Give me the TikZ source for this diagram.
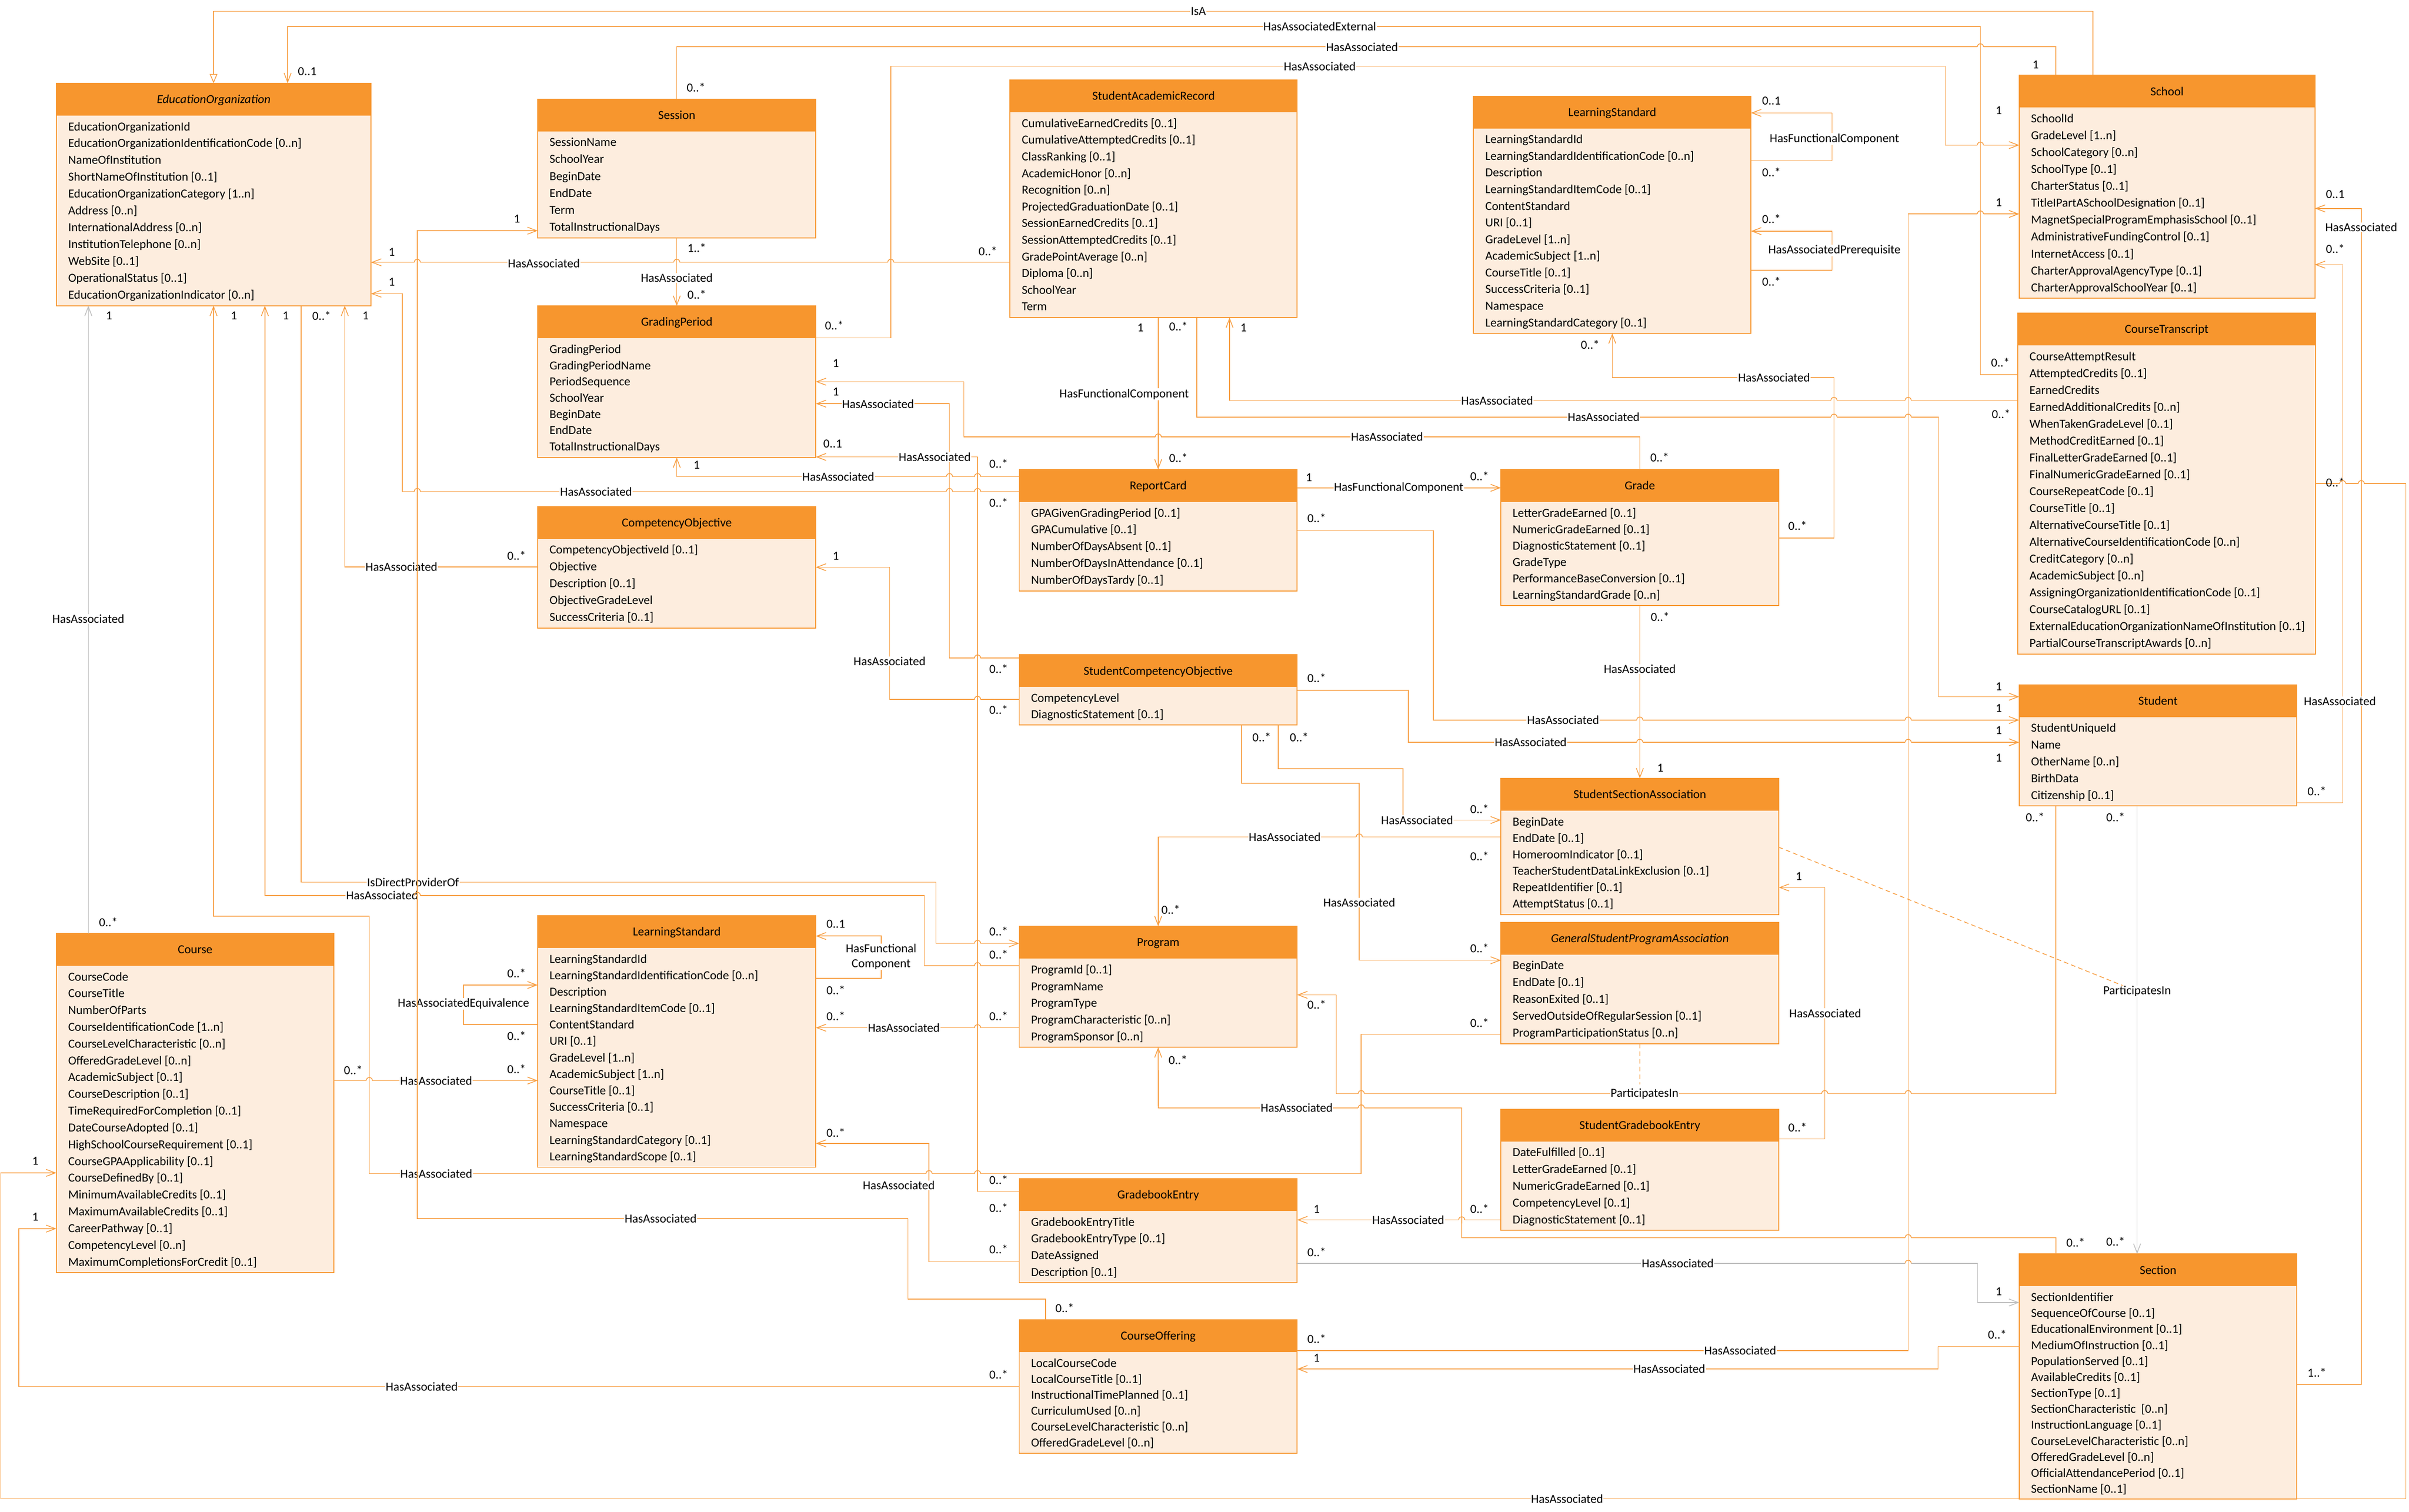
\documentclass[tikz,border=0pt]{standalone}
\usepackage{fontspec}
\setmainfont{Carlito}
\usetikzlibrary{arrows.meta,calc}
\definecolor{headc}{RGB}{247,150,46}
\definecolor{bodyc}{RGB}{253,237,222}
\definecolor{linec}{RGB}{247,158,66}
\definecolor{grayc}{RGB}{190,190,190}
\newcounter{lc}
\newcommand\umlclass[8]{%
  \node[classbody, minimum width={(#3-#2)*1pt}, minimum height={(#5-#4)*1pt}, anchor=north west] (#1) at (#2,#4) {};
  \fill[headc] (#1.north west) rectangle ([yshift=-21pt]#1.north east);
  \draw[boxline] (#1.north west) rectangle (#1.south east);
  \node[titletext] (#1-t) at ([yshift=-13.1pt]#1.north) {#7};
  \foreach \r [count=\i from 0] in {#8} {
    \node[rowtext] (#1-r\i) at ({#2+7.5},{#4+30.8+\i*#6}) {\r};
  }
}
\newcommand\lbl[3]{\stepcounter{lc}\node[lblstyle] (lab\arabic{lc}) at (#1,#2) {#3};}
\newcommand\mlt[3]{\stepcounter{lc}\node[multstyle] (lab\arabic{lc}) at (#1,#2) {#3};}
\newcommand\hop[2]{%
  \fill[white] ({#1-2},{#2-0.7}) rectangle ({#1+2},{#2+0.7});
  \draw[assoc] ({#1},{#2-2.4}) -- ({#1},{#2+2.4});
  \draw[assoc] ({#1-2},{#2}) arc[start angle=180,end angle=0,radius=2pt];
}
\begin{document}
\begin{tikzpicture}[x=1pt,y=-1pt,
  txt/.style={font=\fontsize{8}{9.7}\selectfont, text=black},
  rowtext/.style={txt, inner sep=0pt, anchor=base west},
  titletext/.style={txt, inner sep=0pt, anchor=base},
  classbody/.style={fill=bodyc, inner sep=0pt, outer sep=0pt},
  boxline/.style={draw=headc, line width=0.6pt},
  assoc/.style={draw=linec, line width=0.5pt, line join=miter},
  nav/.style={assoc, -{Straight Barb[length=6pt,width=4.6pt]}},
  navgray/.style={nav, draw=grayc},
  isa/.style={assoc, -{Triangle[open,length=6pt,width=5pt]}},
  partdash/.style={draw=linec, line width=0.5pt, dash pattern=on 3pt off 2pt},
  lblstyle/.style={txt, fill=white, inner sep=0.4pt, align=center},
  multstyle/.style={txt, inner sep=0pt}
]
\useasboundingbox (0,0) rectangle (1568,984.2);

% ---------------- classes ----------------
\umlclass{edorg}{36.7}{241.5}{54.2}{199}{10.96}{\itshape EducationOrganization}{{EducationOrganizationId},{EducationOrganizationIdentificationCode [0..n]},{NameOfInstitution},{ShortNameOfInstitution [0..1]},{EducationOrganizationCategory [1..n]},{Address [0..n]},{InternationalAddress [0..n]},{InstitutionTelephone [0..n]},{WebSite [0..1]},{OperationalStatus [0..1]},{EducationOrganizationIndicator [0..n]}}

\umlclass{session}{350}{531}{64.5}{154.8}{11}{Session}{{SessionName},{SchoolYear},{BeginDate},{EndDate},{Term},{TotalInstructionalDays}}

\umlclass{gp}{350}{531}{199.2}{297.8}{10.57}{GradingPeriod}{{GradingPeriod},{GradingPeriodName},{PeriodSequence},{SchoolYear},{BeginDate},{EndDate},{TotalInstructionalDays}}

\umlclass{compobj}{350}{531}{329.8}{408.8}{10.95}{CompetencyObjective}{{CompetencyObjectiveId [0..1]},{Objective},{Description [0..1]},{ObjectiveGradeLevel},{SuccessCriteria [0..1]}}

\umlclass{sar}{657.4}{844.3}{52.1}{206.7}{10.85}{StudentAcademicRecord}{{CumulativeEarnedCredits [0..1]},{CumulativeAttemptedCredits [0..1]},{ClassRanking [0..1]},{AcademicHonor [0..n]},{Recognition [0..n]},{ProjectedGraduationDate [0..1]},{SessionEarnedCredits [0..1]},{SessionAttemptedCredits [0..1]},{GradePointAverage [0..n]},{Diploma [0..n]},{SchoolYear},{Term}}

\umlclass{lstop}{959.1}{1139.7}{62.6}{217}{10.84}{LearningStandard}{{LearningStandardId},{LearningStandardIdentificationCode [0..n]},{Description},{LearningStandardItemCode [0..1]},{ContentStandard},{URI [0..1]},{GradeLevel [1..n]},{AcademicSubject [1..n]},{CourseTitle [0..1]},{SuccessCriteria [0..1]},{Namespace},{LearningStandardCategory [0..1]}}

\umlclass{school}{1314.3}{1506.7}{49}{194.2}{11}{School}{{SchoolId},{GradeLevel [1..n]},{SchoolCategory [0..n]},{SchoolType [0..1]},{CharterStatus [0..1]},{TitleIPartASchoolDesignation [0..1]},{MagnetSpecialProgramEmphasisSchool [0..1]},{AdministrativeFundingControl [0..1]},{InternetAccess [0..1]},{CharterApprovalAgencyType [0..1]},{CharterApprovalSchoolYear [0..1]}}

\umlclass{coursetranscript}{1313.3}{1507.2}{203.8}{425.9}{10.99}{CourseTranscript}{{CourseAttemptResult},{AttemptedCredits [0..1]},{EarnedCredits},{EarnedAdditionalCredits [0..n]},{WhenTakenGradeLevel [0..1]},{MethodCreditEarned [0..1]},{FinalLetterGradeEarned [0..1]},{FinalNumericGradeEarned [0..1]},{CourseRepeatCode [0..1]},{CourseTitle [0..1]},{AlternativeCourseTitle [0..1]},{AlternativeCourseIdentificationCode [0..n]},{CreditCategory [0..n]},{AcademicSubject [0..n]},{AssigningOrganizationIdentificationCode [0..1]},{CourseCatalogURL [0..1]},{ExternalEducationOrganizationNameOfInstitution [0..1]},{PartialCourseTranscriptAwards [0..n]}}

\umlclass{reportcard}{663.4}{844.3}{305.7}{384.7}{10.95}{ReportCard}{{GPAGivenGradingPeriod [0..1]},{GPACumulative [0..1]},{NumberOfDaysAbsent [0..1]},{NumberOfDaysInAttendance [0..1]},{NumberOfDaysTardy [0..1]}}

\umlclass{grade}{976.9}{1157.8}{305.7}{394.3}{10.68}{Grade}{{LetterGradeEarned [0..1]},{NumericGradeEarned [0..1]},{DiagnosticStatement [0..1]},{GradeType},{PerformanceBaseConversion [0..1]},{LearningStandardGrade [0..n]}}

\umlclass{sco}{663.4}{844.3}{426.3}{472.1}{10.7}{StudentCompetencyObjective}{{CompetencyLevel},{DiagnosticStatement [0..1]}}

\umlclass{ssa}{976.9}{1157.8}{506.8}{595.5}{10.7}{StudentSectionAssociation}{{BeginDate},{EndDate [0..1]},{HomeroomIndicator [0..1]},{TeacherStudentDataLinkExclusion [0..1]},{RepeatIdentifier [0..1]},{AttemptStatus [0..1]}}

\umlclass{gspa}{976.9}{1157.8}{600.4}{679.5}{10.97}{\itshape GeneralStudentProgramAssociation}{{BeginDate},{EndDate [0..1]},{ReasonExited [0..1]},{ServedOutsideOfRegularSession [0..1]},{ProgramParticipationStatus [0..n]}}

\umlclass{sge}{976.9}{1157.8}{722.1}{801}{10.93}{StudentGradebookEntry}{{DateFulfilled [0..1]},{LetterGradeEarned [0..1]},{NumericGradeEarned [0..1]},{CompetencyLevel [0..1]},{DiagnosticStatement [0..1]}}

\umlclass{student}{1314.3}{1495}{445.8}{524.7}{10.93}{Student}{{StudentUniqueId},{Name},{OtherName [0..n]},{BirthData},{Citizenship [0..1]}}

\umlclass{program}{663.4}{844.3}{603.1}{681.8}{10.87}{Program}{{ProgramId [0..1]},{ProgramName},{ProgramType},{ProgramCharacteristic [0..n]},{ProgramSponsor [0..n]}}

\umlclass{course}{36.7}{217.3}{607.7}{828.5}{10.92}{Course}{{CourseCode},{CourseTitle},{NumberOfParts},{CourseIdentificationCode [1..n]},{CourseLevelCharacteristic [0..n]},{OfferedGradeLevel [0..n]},{AcademicSubject [0..1]},{CourseDescription [0..1]},{TimeRequiredForCompletion [0..1]},{DateCourseAdopted [0..1]},{HighSchoolCourseRequirement [0..1]},{CourseGPAApplicability [0..1]},{CourseDefinedBy [0..1]},{MinimumAvailableCredits [0..1]},{MaximumAvailableCredits [0..1]},{CareerPathway [0..1]},{CompetencyLevel [0..n]},{MaximumCompletionsForCredit [0..1]}}

\umlclass{lsbot}{350}{531}{596.1}{760}{10.72}{LearningStandard}{{LearningStandardId},{LearningStandardIdentificationCode [0..n]},{Description},{LearningStandardItemCode [0..1]},{ContentStandard},{URI [0..1]},{GradeLevel [1..n]},{AcademicSubject [1..n]},{CourseTitle [0..1]},{SuccessCriteria [0..1]},{Namespace},{LearningStandardCategory [0..1]},{LearningStandardScope [0..1]}}

\umlclass{gbe}{663.4}{844.3}{767.4}{835.2}{10.87}{GradebookEntry}{{GradebookEntryTitle},{GradebookEntryType [0..1]},{DateAssigned},{Description [0..1]}}

\umlclass{coff}{663.4}{844.3}{859.2}{946}{10.4}{CourseOffering}{{LocalCourseCode},{LocalCourseTitle [0..1]},{InstructionalTimePlanned [0..1]},{CurriculumUsed [0..n]},{CourseLevelCharacteristic [0..n]},{OfferedGradeLevel [0..n]}}

\umlclass{section}{1314.3}{1495}{816.4}{976}{10.4}{Section}{{SectionIdentifier},{SequenceOfCourse [0..1]},{EducationalEnvironment [0..1]},{MediumOfInstruction [0..1]},{PopulationServed [0..1]},{AvailableCredits [0..1]},{SectionType [0..1]},{SectionCharacteristic\ \ [0..n]},{InstructionLanguage [0..1]},{CourseLevelCharacteristic [0..n]},{OfferedGradeLevel [0..n]},{OfficialAttendancePeriod [0..1]},{SectionName [0..1]}}

% ---------------- connectors ----------------
% IsA
\draw[isa] (school.north -| 1362.3,0) |- (139,7.4) -- (edorg.north -| 139,0);
\lbl{780}{7.4}{IsA}
% HasAssociatedExternal
\draw[nav] (coursetranscript.west |- 0,244) -| (1289,17.2) -| (edorg.north -| 187.2,0);
\lbl{859}{17.2}{HasAssociatedExternal}
\mlt{200}{46.5}{0..1}
\mlt{1302}{236}{0..*}
% Session - School
\draw[assoc] (session.north) |- (1338.2,30.5) -- (school.north -| 1338.2,0);
\lbl{886.5}{30.5}{HasAssociated}
\mlt{453}{57}{0..*}
\mlt{1325}{42}{1}
% GradingPeriod - School
\draw[nav] (gp.east |- 0,220) -| (579.8,43.1) -| (1266.1,94.5) -- (school.west |- 0,94.5);
\lbl{859}{43.1}{HasAssociated}
\mlt{543}{212}{0..*}
\mlt{1301}{72}{1}
% LearningStandard self
\draw[nav] (lstop.east |- 0,104.6) -| (1192.5,73.5) -- (lstop.east |- 0,73.5);
\lbl{1194}{90.5}{HasFunctionalComponent}
\mlt{1153}{65.5}{0..1}
\mlt{1153}{112}{0..*}
\draw[nav] (lstop.east |- 0,176) -| (1192.5,150.5) -- (lstop.east |- 0,150.5);
\lbl{1194}{163}{HasAssociatedPrerequisite}
\mlt{1153}{142.6}{0..*}
\mlt{1153}{183.4}{0..*}
% SAR - EdOrg
\draw[nav] (sar.west |- 0,170.8) -- (edorg.east |- 0,170.8);
\lbl{354}{171.5}{HasAssociated}
\mlt{255}{164}{1}
\mlt{643}{163.4}{0..*}
% Session - GradingPeriod
\draw[nav] (session.south) -- (gp.north);
\lbl{440.5}{181}{HasAssociated}
\mlt{453.5}{161.3}{1..*}
\mlt{453.5}{191.8}{0..*}
% Course - EdOrg
\draw[navgray] (course.north -| 57.5,0) -- (edorg.south -| 57.5,0);
\lbl{57.5}{403}{HasAssociated}
\mlt{70.5}{600.3}{0..*}
\mlt{71}{205.5}{1}
% GSPA - EdOrg
\draw[nav] (gspa.west |- 0,673.4) -| (886,764.1) -| (240.4,596.4) -| (edorg.south -| 139,0);
\lbl{284}{764.1}{HasAssociated}
\mlt{963}{665.8}{0..*}
\mlt{152.3}{205.5}{1}
% Program - EdOrg
\draw[nav] (program.west |- 0,628.7) -| (601.6,582.9) -| (edorg.south -| 172.4,0);
\lbl{248.7}{582.9}{HasAssociated}
\mlt{650}{621.5}{0..*}
\mlt{186}{205.5}{1}
% EdOrg - Program IsDirectProviderOf
\draw[nav] (edorg.south -| 196,0) |- (609.2,574.3) |- (program.west |- 0,614.2);
\lbl{268.8}{574.3}{IsDirectProviderOf}
\mlt{209.3}{205.5}{0..*}
\mlt{650}{606.4}{0..*}
% CompetencyObjective - EdOrg
\draw[nav] (compobj.west |- 0,369.1) -| (edorg.south -| 224.4,0);
\lbl{261.3}{369.1}{HasAssociated}
\mlt{336.2}{361.8}{0..*}
\mlt{238}{205.5}{1}
% ReportCard - EdOrg
\draw[nav] (reportcard.west |- 0,320) -| (261.8,191.2) -- (edorg.east |- 0,191.2);
\lbl{388}{320}{HasAssociated}
\mlt{650}{327.4}{0..*}
\mlt{255}{183.5}{1}
% ReportCard - GradingPeriod
\draw[nav] (reportcard.west |- 0,310.3) -| (gp.south);
\lbl{545.6}{310.3}{HasAssociated}
\mlt{650}{302}{0..*}
\mlt{453.5}{302.7}{1}
% Grade - GradingPeriod
\draw[nav] (grade.north) |- (627.3,284.5) |- (gp.east |- 0,248.5);
\lbl{902.8}{284.5}{HasAssociated}
\mlt{1080.2}{297.8}{0..*}
\mlt{544}{236.6}{1}
% SCO - GradingPeriod
\draw[nav] (sco.west |- 0,428.4) -| (618,262.8) -- (gp.east |- 0,262.8);
\lbl{571.5}{263}{HasAssociated}
\mlt{650}{435.3}{0..*}
\mlt{544}{255}{1}
% GradebookEntry - GradingPeriod
\draw[nav] (gbe.west |- 0,775.7) -| (636.3,297.5) -- (gp.east |- 0,297.5);
\lbl{608.4}{297.5}{HasAssociated}
\mlt{650}{768.2}{0..*}
\mlt{542}{289}{0..1}
% SCO - CompetencyObjective
\draw[nav] (sco.west |- 0,455.3) -| (579,369.3) -- (compobj.east |- 0,369.3);
\lbl{579}{430.5}{HasAssociated}
\mlt{650}{462.2}{0..*}
\mlt{544}{362}{1}
% SAR - ReportCard
\draw[nav] (sar.south -| reportcard.north) -- (reportcard.north);
\lbl{731.7}{256.7}{HasFunctionalComponent}
\mlt{742.3}{213.2}{1}
\mlt{767}{298}{0..*}
% SAR - Student
\draw[nav] (sar.south -| 779,0) |- (1261.8,271.6) |- (student.west |- 0,453.6);
\lbl{1043.8}{271.6}{HasAssociated}
\mlt{767}{212.6}{0..*}
\mlt{1301}{447}{1}
% CourseTranscript - SAR
\draw[nav] (coursetranscript.west |- 0,260.7) -| (sar.south -| 800.3,0);
\lbl{974.5}{260.7}{HasAssociated}
\mlt{1302.5}{269.5}{0..*}
\mlt{809.4}{213.2}{1}
% Grade - LearningStandard
\draw[nav] (grade.east |- 0,350.2) -| (1193.7,245.8) -| (lstop.south);
\lbl{1154.7}{245.8}{HasAssociated}
\mlt{1035}{224.4}{0..*}
\mlt{1170}{342.4}{0..*}
% ReportCard - Grade
\draw[nav] (reportcard.east |- 0,317.6) -- (grade.west |- 0,317.6);
\lbl{910.4}{317.6}{HasFunctionalComponent}
\mlt{852}{311}{1}
\mlt{963}{310}{0..*}
% ReportCard - Student
\draw[nav] (reportcard.east |- 0,345.4) -| (933,468.8) -- (student.west |- 0,468.8);
\lbl{1017.4}{468.8}{HasAssociated}
\mlt{857}{337.4}{0..*}
\mlt{1301}{461}{1}
% SCO - Student
\draw[nav] (sco.east |- 0,449.4) -| (916.6,483.3) -- (student.west |- 0,483.3);
\lbl{996.3}{483.3}{HasAssociated}
\mlt{857}{441.4}{0..*}
\mlt{1301}{475.5}{1}
\mlt{1301}{493.4}{1}
% Grade - SSA
\draw[nav] (grade.south) -- (ssa.north);
\lbl{1067.3}{435.6}{HasAssociated}
\mlt{1080.5}{401.7}{0..*}
\mlt{1080.7}{500.1}{1}
% SCO - SSA
\draw[nav] (sco.south -| 832,0) |- (913.2,500.5) |- (ssa.west |- 0,533.9);
\lbl{922.4}{533.9}{HasAssociated}
\mlt{845.6}{480.1}{0..*}
\mlt{963}{526.8}{0..*}
% SCO - GSPA
\draw[nav] (sco.south -| 808.1,0) |- (884.7,510) |- (gspa.west |- 0,625.2);
\lbl{884.7}{587.7}{HasAssociated}
\mlt{821.2}{480.1}{0..*}
\mlt{963}{617.4}{0..*}
% SSA - Program
\draw[nav] (ssa.west |- 0,544.9) -| (program.north);
\lbl{836.2}{544.9}{HasAssociated}
\mlt{963}{557.5}{0..*}
\mlt{762}{592.2}{0..*}
% Student - Section ParticipatesIn
\draw[navgray] (student.south -| 1391,0) -- (section.north -| 1391,0);
\coordinate (pinA) at (1391,645.4);
\draw[partdash] (ssa.east |- 0,551.6) -- (pinA);
\lbl{1391}{645.4}{ParticipatesIn}
\mlt{1377}{532}{0..*}
\mlt{1377}{808.4}{0..*}
% Student - Program ParticipatesIn
\draw[nav] (student.south -| 1338.2,0) |- (869.7,712) |- (program.east |- 0,647.7);
\coordinate (pinB) at (1067.35,706);
\draw[partdash] (gspa.south) -- (pinB);
\lbl{1070.4}{712}{ParticipatesIn}
\mlt{857}{654}{0..*}
\mlt{1324.6}{532}{0..*}
% Section - School
\draw[nav] (section.east |- 0,901.2) -| (1536.9,135.7) -- (school.east |- 0,135.7);
\lbl{1536.9}{148}{HasAssociated}
\mlt{1508}{893.6}{1..*}
\mlt{1520}{126.5}{0..1}
% Student - School
\draw[nav] (student.east |- 0,522.6) -| (1524.8,172.3) -- (school.east |- 0,172.3);
\lbl{1523}{456.6}{HasAssociated}
\mlt{1508}{515}{0..*}
\mlt{1520}{162}{0..*}
% CourseTranscript - Course
\draw[nav] (coursetranscript.east |- 0,314.9) -| (1566,975.7) -| (0.5,763.6) -- (course.west |- 0,763.6);
\lbl{1020}{975.7}{HasAssociated}
\mlt{1520}{314}{0..*}
\mlt{23}{756}{1}
% CourseOffering - Course
\draw[nav] (coff.west |- 0,902.7) -| (12.3,799.9) -- (course.west |- 0,799.9);
\lbl{274.5}{902.7}{HasAssociated}
\mlt{650}{895}{0..*}
\mlt{23}{792.3}{1}
% Course - LearningStandard
\draw[nav] (course.east |- 0,703.5) -- (lsbot.west |- 0,703.5);
\lbl{283.9}{703.5}{HasAssociated}
\mlt{229.9}{696.8}{0..*}
\mlt{336.2}{695.9}{0..*}
% LearningStandard self (bottom)
\draw[nav] (lsbot.west |- 0,667) -| (301.7,641.3) -- (lsbot.west |- 0,641.3);
\lbl{301.7}{653.5}{HasAssociatedEquivalence}
\mlt{336.2}{633.6}{0..*}
\mlt{336.2}{674.4}{0..*}
\draw[nav] (lsbot.east |- 0,636.9) -| (573.5,609.4) -- (lsbot.east |- 0,609.4);
\lbl{573.5}{623}{HasFunctional\\Component}
\mlt{544}{601.6}{0..1}
\mlt{544}{644.5}{0..*}
% Program - LearningStandard
\draw[nav] (program.west |- 0,669.1) -- (lsbot.east |- 0,669.1);
\lbl{588.3}{669.1}{HasAssociated}
\mlt{544}{661.5}{0..*}
\mlt{650}{661.5}{0..*}
% GradebookEntry - LearningStandard
\draw[nav] (gbe.west |- 0,821.5) -| (604.7,744.4) -- (lsbot.east |- 0,744.4);
\lbl{585}{771.7}{HasAssociated}
\mlt{544}{737.5}{0..*}
\mlt{650}{813.2}{0..*}
\mlt{650}{786.4}{0..*}
% StudentGradebookEntry - GradebookEntry
\draw[nav] (sge.west |- 0,794.2) -- (gbe.east |- 0,794.2);
\lbl{916.6}{794.2}{HasAssociated}
\mlt{857}{787.3}{1}
\mlt{963}{786.9}{0..*}
% GradebookEntry - Section
\draw[navgray] (gbe.east |- 0,822.5) -| (1287.2,848) -- (section.west |- 0,848);
\lbl{1092}{822.5}{HasAssociated}
\mlt{857}{815.3}{0..*}
\mlt{1301}{840.9}{1}
% StudentGradebookEntry - SSA
\draw[nav] (sge.east |- 0,741.5) -| (1187.7,577.8) -- (ssa.east |- 0,577.8);
\lbl{1188}{659.6}{HasAssociated}
\mlt{1170}{734}{0..*}
\mlt{1170.8}{570.5}{1}
% Section - Program
\draw[nav] (section.north -| 1338.2,0) |- (951.4,805.8) |- (753.9,721.3) -- (program.south);
\lbl{844}{721.3}{HasAssociated}
\mlt{766.7}{690}{0..*}
\mlt{1351}{809}{0..*}
% CourseOffering - School
\draw[nav] (coff.east |- 0,879.3) -| (1242,139.3) -- (school.west |- 0,139.3);
\lbl{1132.7}{879.3}{HasAssociated}
\mlt{857}{871.5}{0..*}
\mlt{1301}{131.7}{1}
% Section - CourseOffering
\draw[nav] (section.west |- 0,876.7) -| (1261.5,891.3) -- (coff.east |- 0,891.3);
\lbl{1086.5}{891.3}{HasAssociated}
\mlt{1300}{868.7}{0..*}
\mlt{857}{884.1}{1}
% CourseOffering - Session
\draw[nav] (coff.north -| 680.5,0) |- (591,845.7) |- (271.6,793.4) |- (session.west |- 0,150.2);
\lbl{430}{793.4}{HasAssociated}
\mlt{693}{851.6}{0..*}
\mlt{336.5}{142.5}{1}

% ---------------- line hops ----------------
\hop{1289}{30.5}\hop{1289}{94.5}\hop{1289}{139.3}
\hop{271.6}{170.8}\hop{440.5}{170.8}\hop{579.8}{170.8}
\hop{604.7}{764.1}\hop{636.3}{764.1}
\hop{271.6}{582.9}\hop{636.3}{628.7}\hop{636.3}{614.2}
\hop{271.6}{320}\hop{618}{320}\hop{636.3}{320}
\hop{618}{310.3}\hop{636.3}{310.3}
\hop{753.9}{284.5}\hop{636.3}{428.4}\hop{636.3}{455.3}
\hop{1193.7}{271.6}\hop{1242}{271.6}\hop{1193.7}{260.7}\hop{1242}{260.7}
\hop{1067.3}{468.8}\hop{1242}{468.8}\hop{1067.3}{483.3}\hop{1242}{483.3}
\hop{884.7}{544.9}\hop{886}{712}\hop{1187.7}{712}\hop{1242}{712}
\hop{1524.8}{314.9}\hop{1536.9}{314.9}
\hop{240.4}{703.5}\hop{636.3}{669.1}\hop{951.4}{794.2}
\hop{1242}{822.5}\hop{1242}{805.8}\hop{886}{721.3}
\end{tikzpicture}
\end{document}
